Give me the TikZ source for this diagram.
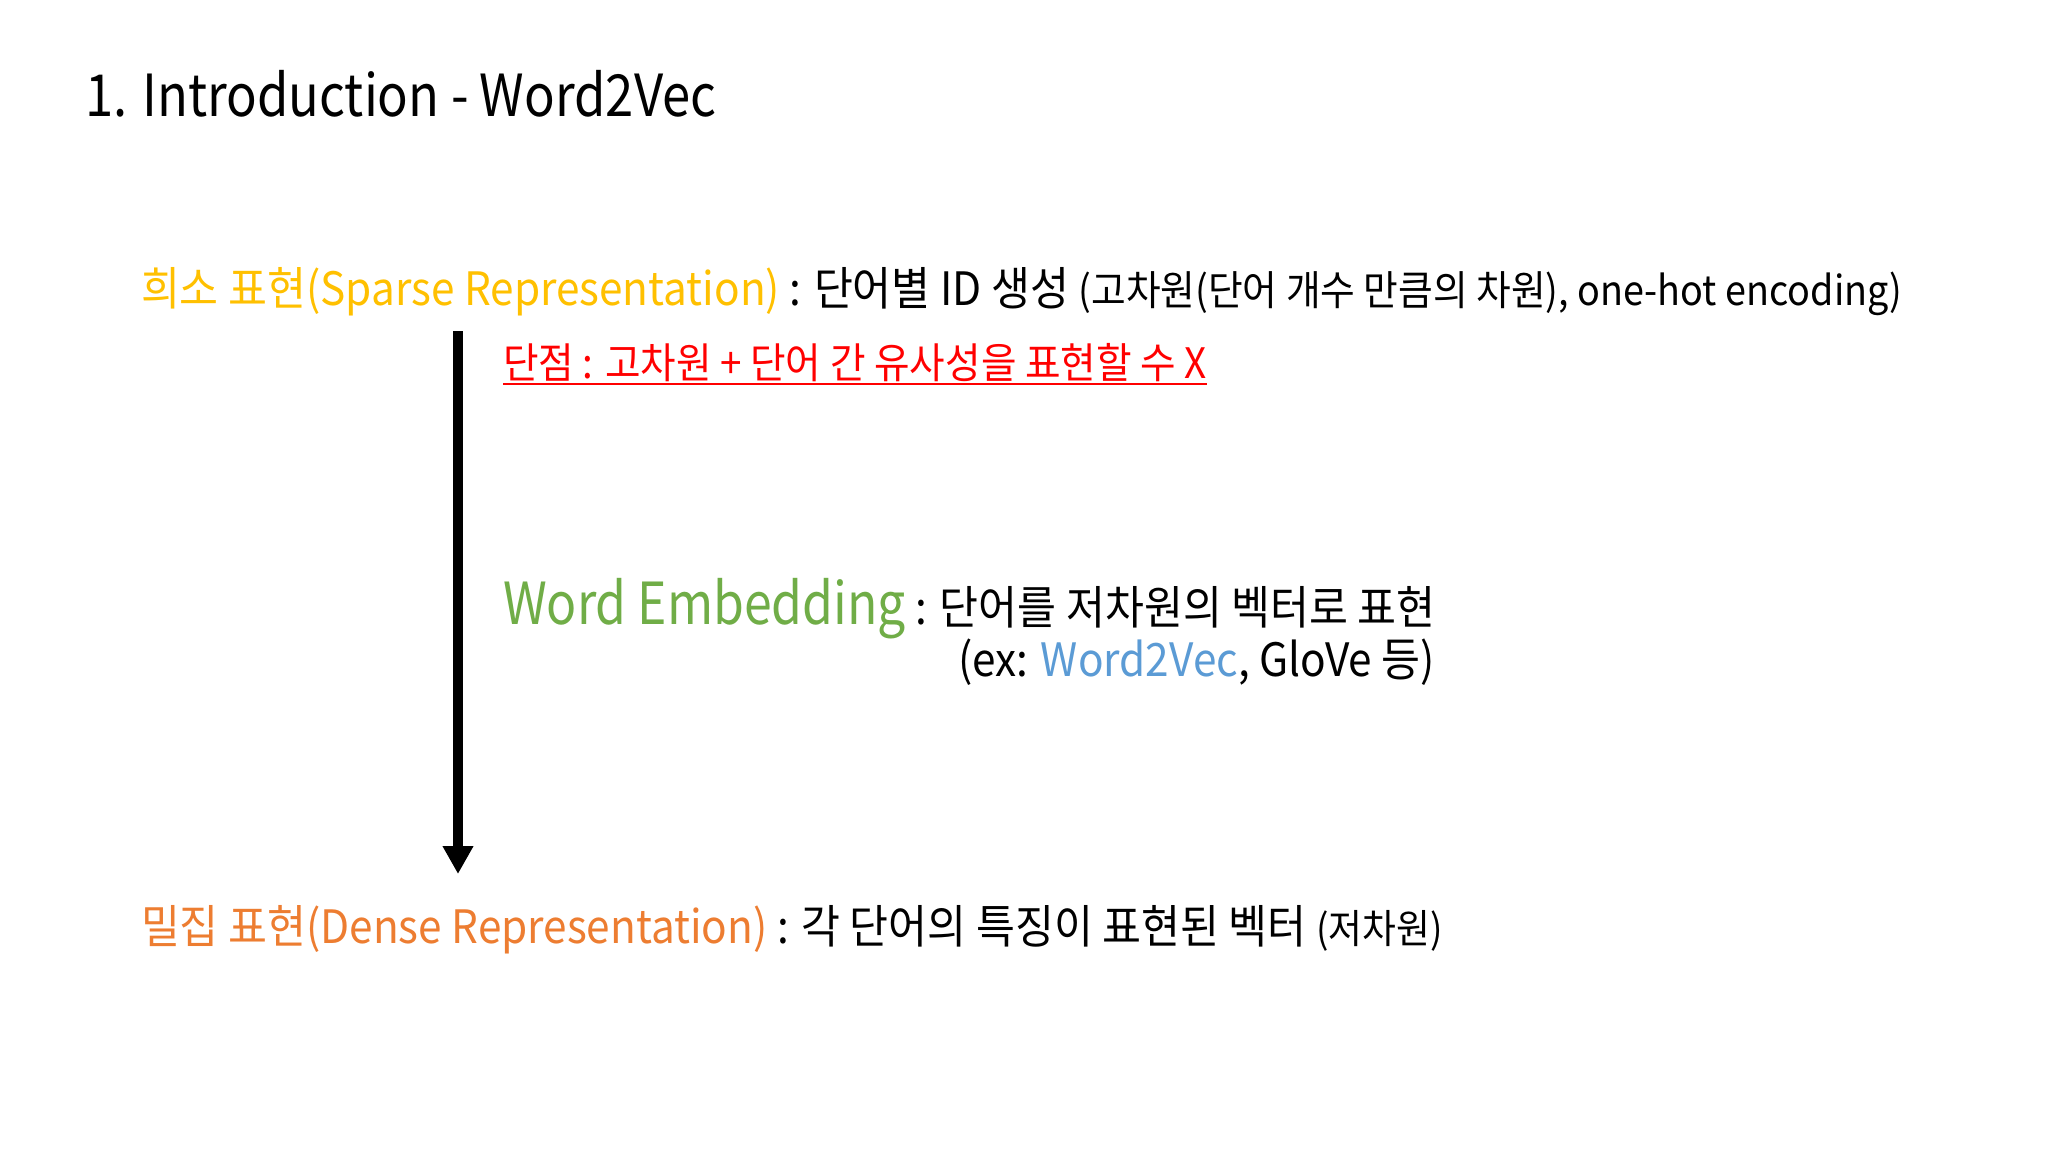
\documentclass[tikz,border=0pt]{standalone}
\usepackage{fontspec}
\setmainfont{Noto Sans CJK KR}[FakeStretch=0.92]
\newfontfamily\titlefont{Noto Sans CJK KR}[FakeStretch=0.875]
\newfontfamily\embfont{Noto Sans CJK KR}[FakeStretch=0.86]
\usetikzlibrary{arrows.meta}
\definecolor{sparsecol}{HTML}{FFC000}
\definecolor{densecol}{HTML}{ED7D31}
\definecolor{embcol}{HTML}{70AD47}
\definecolor{vecblue}{HTML}{5B9BD5}
\definecolor{warnred}{HTML}{FF0000}
\newcommand{\fsz}[1]{\fontsize{#1}{#1}\selectfont}
\begin{document}
\begin{tikzpicture}[x=1pt,y=-1pt,
  txt/.style={anchor=base west, inner sep=0pt, outer sep=0pt},
  flow/.style={line width=10pt, -{Triangle[width=29pt,length=28pt]}}]
\fill[white] (0,0) rectangle (2048,1152);
\useasboundingbox (0,0) rectangle (2048,1152);
\node[txt, font=\titlefont\fsz{58}] (title) at (85,116) {1. Introduction - Word2Vec};
\node[txt, font=\fsz{46}] (sparse) at (141,305) {\textcolor{sparsecol}{희소 표현(Sparse Representation)} : 단어별 ID 생성 {\fsz{41}(고차원(단어 개수 만큼의 차원), one-hot encoding)}};
\node[txt, font=\fsz{42}, text=warnred] (weak) at (503,378) {단점 : 고차원 + 단어 간 유사성을 표현할 수 X};
\draw[warnred, line width=2pt] ([yshift=-6pt]weak.base west) -- ([yshift=-6pt]weak.base east);
\node[txt, font=\fsz{46}] (emb) at (503,624) {{\embfont\fsz{58}\textcolor{embcol}{Word Embedding}} : 단어를 저차원의 벡터로 표현};
\node[anchor=base east, inner sep=0pt, outer sep=0pt, font=\fsz{46}] (ex) at (1435,676) {(ex: \textcolor{vecblue}{Word2Vec}, GloVe 등)};
\node[txt, font=\fsz{46}] (dense) at (141,943) {\textcolor{densecol}{밀집 표현(Dense Representation)} : 각 단어의 특징이 표현된 벡터 {\fsz{40}(저차원)}};
\coordinate (atop) at (458,331);
\coordinate (abot) at (458,874);
\draw[flow] (atop) -- (abot);
\end{tikzpicture}
\end{document}
